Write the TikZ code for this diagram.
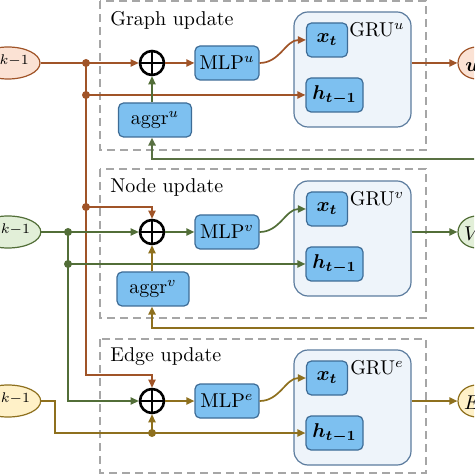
\documentclass[tikz,border=0pt]{standalone}
\usepackage{amsmath,amssymb}
\usetikzlibrary{arrows.meta,shapes.geometric}
\usepackage{xcolor}
\definecolor{ucol}{RGB}{160,84,40}
\definecolor{ufill}{RGB}{251,226,212}
\definecolor{vcol}{RGB}{82,110,56}
\definecolor{vfill}{RGB}{226,239,216}
\definecolor{ecol}{RGB}{142,112,30}
\definecolor{efill}{RGB}{255,241,200}
\definecolor{blkfill}{RGB}{125,192,240}
\definecolor{blkdraw}{RGB}{62,108,150}
\definecolor{grufill}{RGB}{238,244,250}
\definecolor{grudraw}{RGB}{92,124,158}

\begin{document}
\begin{tikzpicture}[
  x=.5pt,y=-.5pt,
  stage/.style={draw=black!35,line width=.8pt,dash pattern=on 4pt off 2.5pt},
  title/.style={anchor=west,font=\normalsize,inner sep=0pt},
  blk/.style={draw=blkdraw,fill=blkfill,rounded corners=2.5pt,line width=.6pt,
    minimum height=17pt,inner sep=0pt},
  gru/.style={draw=grudraw,fill=grufill,rounded corners=7pt,line width=.6pt,
    minimum width=58.5pt,minimum height=57.5pt,inner sep=0pt},
  oplus/.style={circle,draw=black,line width=1.3pt,minimum size=12pt,inner sep=0pt,
    path picture={\draw[line width=1.3pt]
      (path picture bounding box.north)--(path picture bounding box.south)
      (path picture bounding box.west)--(path picture bounding box.east);}},
  var/.style={ellipse,line width=.6pt,minimum width=32pt,minimum height=16pt,inner sep=0pt},
  outvar/.style={var,minimum width=19pt},
  flow/.style={line width=.85pt,-{Triangle[length=4pt,width=3.6pt]}},
  dot/.style={circle,fill,inner sep=0pt,minimum size=4pt}
]
  \useasboundingbox (0,0) rectangle (474,474);
  \clip (0,0) rectangle (474,474);

  % frames
  \draw[stage] (100,1) rectangle (426,150);
  \draw[stage] (100,169) rectangle (426,318);
  \draw[stage] (100,339) rectangle (426,473);
  \node[title] at (110,20) {Graph update};
  \node[title] at (110,188) {Node update};
  \node[title] at (110,357) {Edge update};

  % graph row
  \node[var,draw=ucol,fill=ufill] (uin) at (8,63) {$\boldsymbol{u}^{k-1}$};
  \node[oplus] (plu) at (152,63) {};
  \node[blk,minimum width=32pt] (mlpu) at (227,63) {MLP$^u$};
  \node[blk,minimum width=36.5pt] (aggu) at (155,120) {aggr$^u$};
  \node[gru] (gruu) at (352.5,69.5) {};
  \node[blk,minimum width=20.5pt] (xu) at (327,40) {$\boldsymbol{x_t}$};
  \node[blk,minimum width=28.5pt] (hu) at (334.5,95) {$\boldsymbol{h_{t-1}}$};
  \node[inner sep=0pt] at (377,30) {GRU$^u$};
  \node[outvar,draw=ucol,fill=ufill] (uout) at (477,63) {$\boldsymbol{u}^{k}$};

  % node row
  \node[var,draw=vcol,fill=vfill] (vin) at (8,232) {$V^{k-1}$};
  \node[oplus] (plv) at (152,232) {};
  \node[blk,minimum width=32pt] (mlpv) at (227,232) {MLP$^v$};
  \node[blk,minimum width=36pt] (aggv) at (153,289) {aggr$^v$};
  \node[gru] (gruv) at (352.5,238.5) {};
  \node[blk,minimum width=20.5pt] (xv) at (327,209) {$\boldsymbol{x_t}$};
  \node[blk,minimum width=28.5pt] (hv) at (334.5,264) {$\boldsymbol{h_{t-1}}$};
  \node[inner sep=0pt] at (377,199) {GRU$^v$};
  \node[outvar,draw=vcol,fill=vfill] (vout) at (477,232) {$V^{k}$};

  % edge row
  \node[var,draw=ecol,fill=efill] (ein) at (8,401) {$E^{k-1}$};
  \node[oplus] (ple) at (152,401) {};
  \node[blk,minimum width=32pt] (mlpe) at (227,401) {MLP$^e$};
  \node[gru] (grue) at (352.5,407.5) {};
  \node[blk,minimum width=20.5pt] (xe) at (327,378) {$\boldsymbol{x_t}$};
  \node[blk,minimum width=28.5pt] (he) at (334.5,433) {$\boldsymbol{h_{t-1}}$};
  \node[inner sep=0pt] at (377,368) {GRU$^e$};
  \node[outvar,draw=ecol,fill=efill] (eout) at (477,401) {$E^{k}$};

  % branch points
  \coordinate (ju1) at (86,63);
  \coordinate (ju2) at (86,95);
  \coordinate (ju3) at (86,207);
  \coordinate (ju4) at (86,375);
  \coordinate (jv1) at (68,232);
  \coordinate (jv2) at (68,264);
  \coordinate (jv3) at (68,401);
  \coordinate (ek1) at (55,401);
  \coordinate (ek2) at (55,433);
  \coordinate (je) at (152,433);
  \coordinate (fbv) at (480,159);
  \coordinate (fbe) at (480,328);

  % u wires
  \draw[flow,ucol] (uin) -- (plu);
  \draw[flow,ucol] (ju1) -- (ju4) -| (ple);
  \draw[flow,ucol] (ju3) -| (plv);
  \draw[flow,ucol] (ju2) -- (hu.west);
  \draw[flow,ucol] (plu) -- (mlpu);
  \draw[flow,ucol] (mlpu.east) to[out=0,in=180] (xu.west);
  \draw[flow,ucol] (gruu.east |- uout) -- (uout);

  % v wires
  \draw[flow,vcol] (vin) -- (plv);
  \draw[flow,vcol] (jv1) -- (jv3) -- (ple);
  \draw[flow,vcol] (jv2) -- (hv.west);
  \draw[flow,vcol] (plv) -- (mlpv);
  \draw[flow,vcol] (mlpv.east) to[out=0,in=180] (xv.west);
  \draw[flow,vcol] (gruv.east |- vout) -- (vout);
  \draw[flow,vcol] (aggu.north -| plu) -- (plu);
  \draw[flow,vcol!85!gray,line width=1pt] (fbv) -| (aggu.south -| plu);

  % e wires
  \draw[flow,ecol] (ein) -- (ek1) -- (ek2) -- (he.west);
  \draw[flow,ecol] (je) -- (ple);
  \draw[flow,ecol] (ple) -- (mlpe);
  \draw[flow,ecol] (mlpe.east) to[out=0,in=180] (xe.west);
  \draw[flow,ecol] (grue.east |- eout) -- (eout);
  \draw[flow,ecol] (aggv.north -| plv) -- (plv);
  \draw[flow,ecol,line width=1pt] (fbe) -| (aggv.south -| plv);

  % dots
  \node[dot,ucol] at (ju1) {};
  \node[dot,ucol] at (ju2) {};
  \node[dot,ucol] at (ju3) {};
  \node[dot,vcol] at (jv1) {};
  \node[dot,vcol] at (jv2) {};
  \node[dot,ecol] at (je) {};
\end{tikzpicture}
\end{document}
